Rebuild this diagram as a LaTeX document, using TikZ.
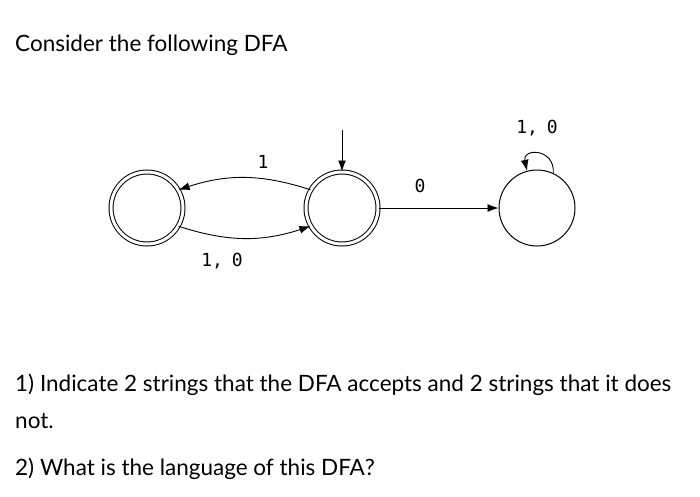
\documentclass[tikz,border=0pt]{standalone}
\usepackage{fontspec}
\setmainfont{Lato}
\newfontfamily\lblfont{DejaVu Sans Mono}
\usetikzlibrary{arrows.meta}
\begin{document}
\begin{tikzpicture}[x=1pt,y=-1pt,
  st/.style={circle,draw,line width=1pt,minimum size=68pt,inner sep=0pt},
  acc/.style={st,double,double distance=3pt},
  tr/.style={-{Latex[length=11pt,width=8pt]},line width=0.9pt},
  lbl/.style={font=\lblfont\fontsize{18}{20}\selectfont},
  txt/.style={anchor=west,inner sep=0pt,font=\fontsize{22.5}{26}\selectfont}]
\useasboundingbox (0,0) rectangle (700,496);
\node[txt] (t1) at (15,45) {Consider the following DFA};
\node[acc,minimum size=72pt] (a) at (147,208) {};
\node[acc,minimum size=72pt] (b) at (342,208) {};
\node[st,minimum size=76pt] (c) at (537,208) {};
\coordinate (s) at (342,130);
\draw[tr] (s) -- (b);
\draw[tr] (b.150) to[bend right=18] (a.30);
\draw[tr] (a.-30) to[bend right=18] (b.-150);
\draw[tr] (b) -- (c);
\draw[tr] (c.65) .. controls (555,148) and (522,148) .. (c.105);
\node[lbl] (l1) at (263,162) {1};
\node[lbl] (l2) at (222,261) {1,\kern-2pt~0};
\node[lbl] (l3) at (420,186) {0};
\node[lbl] (l4) at (537,128) {1,\kern-2pt~0};
\node[txt] (t2) at (15,385) {1) Indicate 2 strings that the DFA accepts and 2 strings that it does};
\node[txt] (t3) at (15,421) {not.};
\node[txt] (t4) at (15,469) {2) What is the language of this DFA?};
\end{tikzpicture}
\end{document}
